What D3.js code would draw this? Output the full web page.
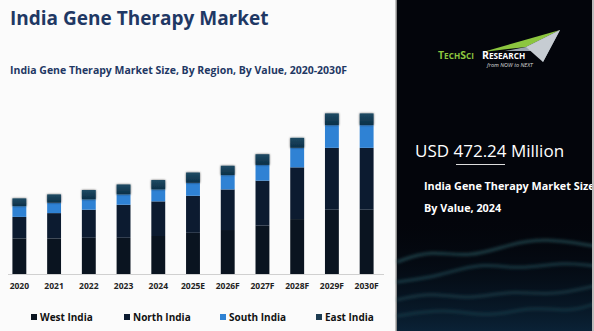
<!DOCTYPE html>
<meta charset="utf-8">
<script src="https://cdn.jsdelivr.net/npm/d3@7"></script>
<style>
body { margin: 0; background: #fff; }
svg { display: block; }
text { font-family: "Open Sans", sans-serif; }
</style>
<body>
<script>
var width = 594,
    height = 331;

// market size by region, USD million
var years = ["2020", "2021", "2022", "2023", "2024", "2025E", "2026F", "2027F", "2028F", "2029F", "2030F"];
var regions = ["West India", "North India", "South India", "East India"];
var westIndia  = [179, 179, 182, 182, 191, 207, 221, 243, 276, 323, 323];
var northIndia = [108, 127, 141, 166, 174, 186, 204, 226, 260, 311, 311];
var southIndia = [54, 52, 52, 52, 60, 65, 72, 79, 98, 114, 114];
var eastIndia  = [39, 42, 47, 50, 47.24, 52, 47, 54, 50, 59, 59];
var colors = ["#0a1420", "#0c1b30", "#2f82d4", "#123c55"];

var rows = years.map(function(y, i) {
  return {year: y, "West India": westIndia[i], "North India": northIndia[i],
          "South India": southIndia[i], "East India": eastIndia[i]};
});

var svg = d3.select("body").append("svg")
    .attr("width", width)
    .attr("height", height);

var defs = svg.append("defs");
var eastGrad = defs.append("linearGradient").attr("id", "eastGrad")
    .attr("x1", 0).attr("y1", 0).attr("x2", 0).attr("y2", 1);
eastGrad.append("stop").attr("offset", "0%").attr("stop-color", "#1f4a63");
eastGrad.append("stop").attr("offset", "100%").attr("stop-color", "#0b3048");
var soft = defs.append("filter").attr("id", "soft")
    .attr("x", "-30%").attr("y", "-60%").attr("width", "160%").attr("height", "220%");
soft.append("feGaussianBlur").attr("in", "SourceAlpha").attr("stdDeviation", 1.2).attr("result", "b");
soft.append("feComponentTransfer").attr("in", "b").attr("result", "s")
  .append("feFuncA").attr("type", "linear").attr("slope", 0.6);
var m = soft.append("feMerge");
m.append("feMergeNode").attr("in", "s");
m.append("feMergeNode").attr("in", "SourceGraphic");

var waveBlur = defs.append("filter").attr("id", "waveBlur");
waveBlur.append("feGaussianBlur").attr("stdDeviation", 1.5);

// left panel background
svg.append("rect")
    .attr("width", 397).attr("height", height)
    .attr("fill", "#fbfbfb");

svg.append("text")
    .attr("x", 10).attr("y", 25)
    .attr("font-size", 19).attr("font-weight", 700)
    .attr("fill", "#1f3864")
    .text("India Gene Therapy Market");

svg.append("text")
    .attr("x", 10).attr("y", 74)
    .attr("font-size", 10.5).attr("font-weight", 700)
    .attr("fill", "#1f3864")
    .text("India Gene Therapy Market Size, By Region, By Value, 2020-2030F");

var x = d3.scaleBand()
    .domain(years)
    .range([2, 384])
    .paddingInner(0.6)
    .paddingOuter(0.3);

var y = d3.scaleLinear()
    .domain([0, 1000])
    .range([274, 75]);

var stack = d3.stack().keys(regions);
var series = stack(rows);

var layer = svg.append("g").selectAll("g")
  .data(series)
  .enter().append("g")
    .attr("fill", function(d, i) { return i == 3 ? "url(#eastGrad)" : colors[i]; })
    .attr("filter", function(d, i) { return i == 3 ? "url(#soft)" : null; });

layer.selectAll("rect")
  .data(function(d) { return d; })
  .enter().append("rect")
    .attr("x", function(d) { return x(d.data.year); })
    .attr("y", function(d) { return y(d[1]); })
    .attr("width", x.bandwidth())
    .attr("height", function(d) { return y(d[0]) - y(d[1]); });

var xAxis = svg.append("g")
    .attr("transform", "translate(0," + y(0) + ")")
    .call(d3.axisBottom(x).tickSize(0).tickPadding(9).tickSizeOuter(0));
xAxis.select(".domain")
    .attr("stroke", "#d0d0d0")
    .attr("d", "M8,0.5H384");
xAxis.selectAll("text")
    .attr("font-family", "'Open Sans', sans-serif")
    .attr("font-size", 8.5).attr("font-weight", 700)
    .attr("fill", "#222");

// legend
var legendX = [31, 124, 220, 316];
var legend = svg.append("g").selectAll("g")
  .data(regions)
  .enter().append("g")
    .attr("transform", function(d, i) { return "translate(" + legendX[i] + ",314)"; });
legend.append("rect")
    .attr("width", 6).attr("height", 6)
    .attr("fill", function(d, i) { return i == 3 ? "#1d3c52" : colors[i]; });
legend.append("text")
    .attr("x", 9).attr("y", 6.5)
    .attr("font-size", 10).attr("font-weight", 700)
    .attr("fill", "#111")
    .text(function(d) { return d; });

// right panel
svg.append("rect")
    .attr("x", 395.5).attr("y", 0).attr("width", 1.5).attr("height", height)
    .attr("fill", "#8a8a8a");
svg.append("rect")
    .attr("x", 397).attr("y", 0).attr("width", 197).attr("height", height)
    .attr("fill", "#03050b");

var panelGrad = defs.append("linearGradient").attr("id", "panelGrad")
    .attr("x1", 0).attr("y1", 0).attr("x2", 0).attr("y2", 1);
panelGrad.append("stop").attr("offset", "0%").attr("stop-color", "#03050b").attr("stop-opacity", 0);
panelGrad.append("stop").attr("offset", "100%").attr("stop-color", "#0a2236");
svg.append("rect")
    .attr("x", 397).attr("y", 215).attr("width", 197).attr("height", 116)
    .attr("fill", "url(#panelGrad)");

// wave texture at the bottom of the panel
var waves = [
  [[397, 262], [430, 250], [470, 258], [510, 244], [545, 238], [594, 246]],
  [[397, 282], [440, 276], [480, 262], [520, 270], [560, 262], [594, 266]],
  [[397, 300], [430, 292], [470, 300], [510, 290], [550, 296], [594, 286]],
  [[397, 316], [445, 308], [490, 318], [530, 306], [570, 312], [594, 304]]
];
var waveLine = d3.line().curve(d3.curveBasis);
svg.append("g")
    .attr("filter", "url(#waveBlur)")
  .selectAll("path")
  .data(waves)
  .enter().append("path")
    .attr("d", waveLine)
    .attr("fill", "none")
    .attr("stroke", "#2e6670")
    .attr("stroke-opacity", function(d, i) { return 0.55 - i * 0.08; })
    .attr("stroke-width", 3);

// logo
var logo = svg.append("g");
logo.append("path")
    .attr("d", "M483,52 L560,30 L526,47 Z")
    .attr("fill", "#8cc63f");
logo.append("path")
    .attr("d", "M505,51 L526,47 L560,30 L543,62 L538,51 Z")
    .attr("fill", "#9aa4ad");
logo.append("path")
    .attr("d", "M526,47 L560,30 L543,62 Z")
    .attr("fill", "#c6ccd2");

function capsWord(sel, first, rest) {
  sel.append("tspan").attr("font-size", 10.5).text(first);
  sel.append("tspan").attr("font-size", 8.2).text(rest);
}
var t1 = logo.append("text")
    .attr("x", 438).attr("y", 59)
    .attr("font-weight", 700)
    .attr("fill", "#8cc63f");
capsWord(t1, "T", "ECH");
capsWord(t1, "S", "CI");
var t2 = logo.append("text")
    .attr("x", 482).attr("y", 59)
    .attr("font-weight", 700)
    .attr("fill", "#fff");
capsWord(t2, "R", "ESEARCH");
logo.append("text")
    .attr("x", 487).attr("y", 67)
    .attr("font-size", 5.5).attr("font-style", "italic")
    .attr("fill", "#ddd")
    .text("from NOW to NEXT");

svg.append("text")
    .attr("x", 415).attr("y", 157)
    .attr("font-size", 17)
    .attr("fill", "#fff")
    .text("USD 472.24 Million");
svg.append("line")
    .attr("x1", 456).attr("x2", 505)
    .attr("y1", 164.5).attr("y2", 164.5)
    .attr("stroke", "#ddd").attr("stroke-width", 1);
svg.append("text")
    .attr("x", 424).attr("y", 190)
    .attr("font-size", 10.8).attr("font-weight", 700)
    .attr("fill", "#fff")
    .text("India Gene Therapy Market Size");
svg.append("text")
    .attr("x", 424).attr("y", 212)
    .attr("font-size", 10.8).attr("font-weight", 700)
    .attr("fill", "#fff")
    .text("By Value, 2024");
svg.append("rect")
    .attr("x", 592).attr("y", 0).attr("width", 2).attr("height", height)
    .attr("fill", "#bbb");
</script>
</body>
</html>
